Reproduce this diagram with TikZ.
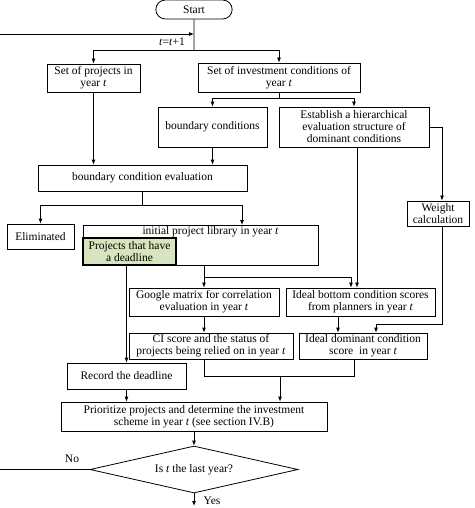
\documentclass[tikz,border=0pt]{standalone}
\usepackage{fontspec}
\setmainfont{Liberation Serif}
\usetikzlibrary{arrows.meta,shapes.geometric,shapes.misc}
\definecolor{deadgreen}{HTML}{D7E4BD}
\tikzset{
  box/.style={draw, line width=0.8pt, align=center, inner sep=1pt},
  startbox/.style={draw, line width=0.8pt, rounded rectangle, minimum width=83pt, minimum height=19pt},
  dlbox/.style={box, fill=deadgreen, line width=1.1pt},
  decision/.style={draw, line width=0.8pt, diamond, inner sep=0pt, shape aspect=4.43, minimum width=208pt, minimum height=47pt},
}
\begin{document}
\begin{tikzpicture}[x=1pt, y=-1pt, line width=0.8pt, font=\fontsize{11.5}{12}\selectfont, >={Latex[length=5pt,width=4pt]}] %[scale=0.8]
      \useasboundingbox (0,0) rectangle (474,508);
      \clip (0,0) rectangle (474,508);
      \node[startbox] (start) at (194,9.5) {Start};
      \node[box, minimum width=93pt, minimum height=28pt] (setproj) at (93.5,78) {Set of projects in\\ year \textit{t}};
      \node[box, minimum width=162pt, minimum height=29pt] (invest) at (279,77.5) {Set of investment conditions of\\ year \textit{t}};
      \node[box, minimum width=109pt, minimum height=40pt] (bc) at (212.5,127) {boundary conditions};
      \node[box, minimum width=150pt, minimum height=40pt] (estab) at (354,127) {Establish a hierarchical\\ evaluation structure of\\ dominant conditions};
      \node[box, minimum width=209pt, minimum height=26pt] (bce) at (142.5,178) {boundary condition evaluation};
      \node[box, minimum width=62pt, minimum height=25pt] (weight) at (438,213.5) {Weight\\ calculation};
      \node[box, minimum width=67pt, minimum height=25pt] (elim) at (40.5,236.5) {Eliminated};
      \node[box, minimum width=235pt, minimum height=40pt,
        label={[anchor=north, inner sep=2pt, xshift=10pt]north:initial project library in year \textit{t}}] (lib) at (200.5,245) {};
      \node[dlbox, minimum width=93pt, minimum height=27pt] (dead) at (129.5,251.5) {Projects that have\\ a deadline};
      \node[box, minimum width=150pt, minimum height=28pt] (google) at (204,302) {Google matrix for correlation\\ evaluation in year \textit{t}};
      \node[box, minimum width=149pt, minimum height=28pt] (ibs) at (360.5,302) {Ideal bottom condition scores\\ from planners in year \textit{t}};
      \node[box, minimum width=164pt, minimum height=26pt] (ci) at (211,346) {CI score and the status of\\ projects being relied on in year \textit{t}};
      \node[box, minimum width=128pt, minimum height=26pt] (ids) at (363,346) {Ideal dominant condition\\ score\ \ in year \textit{t}};
      \node[box, minimum width=119pt, minimum height=26pt] (rec) at (126.5,376) {Record the deadline};
      \node[box, minimum width=266pt, minimum height=29pt] (prio) at (194,416.5) {Prioritize projects and determine the investment\\ scheme in year \textit{t} (see section IV.B)};
      \node[decision] (dec) at (194,469.5) {Is \textit{t} the last year?};
      \node (inc) at (172,42) {\textit{t}=\textit{t}+1};
      \node (no) at (72,459) {No};
      \node (yes) at (212,501) {Yes};
      \coordinate (loop) at (194,34);
      \coordinate (top) at (194,50);
      \coordinate (cfork) at (279,98);
      \coordinate (wbend) at (442,127);
      \coordinate (bfork) at (142.5,205);
      \coordinate (libin) at (242,225);
      \coordinate (lfork) at (204,277);
      \coordinate (lright) at (351,277);
      \coordinate (edown) at (357,147);
      \coordinate (ib) at (338,316);
      \coordinate (wbend2) at (442,324);
      \coordinate (wleft) at (376,324);
      \coordinate (cil) at (204,376);
      \coordinate (cir) at (354,376);
      \coordinate (join) at (280,376);
      \coordinate (finish) at (194,506);
      \coordinate (backlow) at (-8,469.5);
      \coordinate (backtop) at (-8,34);
      \draw (start) -- (top);
      \draw [->] (top) -| (setproj);
      \draw [->] (top) -| (invest);
      \draw (invest) -- (cfork);
      \draw [->] (cfork) -| (bc);
      \draw [->] (cfork) -| (estab);
      \draw [->] (estab) -- (wbend) -- (wbend |- weight.north);
      \draw [->] (edown) -- (edown |- ibs.north);
      \draw [->] (setproj) -- (setproj |- bce.north);
      \draw [->] (bc) -- (bc |- bce.north);
      \draw (bce) -- (bfork);
      \draw [->] (bfork) -| (elim);
      \draw [->] (bfork) -| (libin);
      \draw [->] (rec |- dead.south) -- (rec);
      \draw (lfork |- lib.south) -- (lfork);
      \draw [->] (lfork) -- (lfork |- google.north);
      \draw [->] (lfork) -- (lright) -- (lright |- ibs.north);
      \draw [->] (google) -- (google |- ci.north);
      \draw [->] (ib) -- (ib |- ids.north);
      \draw [->] (wbend2 |- weight.south) -- (wbend2) -- (wleft) -- (wleft |- ids.north);
      \draw (cil |- ci.south) -- (cil) -- (cir) -- (cir |- ids.south);
      \draw [->] (join) -- (join |- prio.north);
      \draw [->] (rec) -- (rec |- prio.north);
      \draw [->] (prio) -- (dec);
      \draw [->] (dec) -- (finish);
      \draw [->] (dec.west) -- (backlow) -- (backtop) -- (loop);
    \end{tikzpicture}
\end{document}
